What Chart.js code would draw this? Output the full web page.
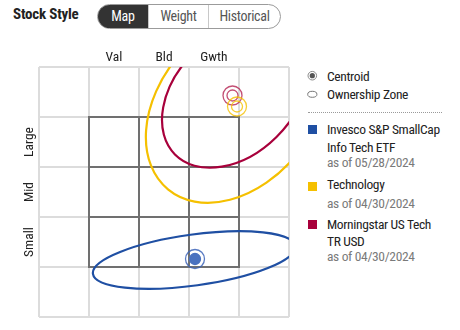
<!DOCTYPE html>
<html><head><meta charset="utf-8">
<script src="https://cdn.jsdelivr.net/npm/chart.js@4.4.1/dist/chart.umd.min.js"></script>
<style>
html,body{margin:0;padding:0;background:#fff;}
body{width:460px;height:330px;position:relative;overflow:hidden;font-family:"Liberation Sans Narrow","Arial Narrow","Roboto Condensed","DejaVu Sans Condensed",Roboto,sans-serif;color:#222;}
#title{position:absolute;left:13px;top:4px;font-size:15px;font-weight:bold;line-height:20px;white-space:nowrap;letter-spacing:-0.2px;}
#tabs{position:absolute;left:97px;top:4px;width:182px;height:23px;border:1px solid #9b9b9b;border-radius:13px;overflow:hidden;display:flex;}
.tab{height:23px;line-height:23px;font-size:14px;text-align:center;color:#555;box-sizing:border-box;letter-spacing:-0.3px;}
.tab + .tab{border-left:1px solid #c8c8c8;}
.tab.active{background:#333;color:#fff;}
#chartWrap{position:absolute;left:0;top:0;width:300px;height:330px;}
.lg{position:absolute;left:327px;font-size:13.5px;line-height:16px;white-space:nowrap;color:#222;letter-spacing:-0.35px;}
.lg.date{color:#7a7a7a;}
.sq{position:absolute;left:308px;width:9px;height:9px;}
#dots{position:absolute;left:308px;top:112px;width:134px;border-top:1px dotted #9a9a9a;}
</style>
</head>
<body>
<div id="title">Stock Style</div>
<div id="tabs"></div>
<div id="chartWrap"><canvas id="c" width="300" height="330"></canvas></div>
<svg style="position:absolute;left:303px;top:66px" width="20" height="36">
  <circle cx="9.3" cy="9.7" r="4.3" fill="#fff" stroke="#8a8a8a" stroke-width="1"/>
  <circle cx="9.3" cy="9.7" r="2.6" fill="#555"/>
  <ellipse cx="9.3" cy="28.3" rx="4.6" ry="3" fill="none" stroke="#777" stroke-width="1"/>
</svg>
<div id="dots"></div>
<div id="legend"></div>
<script>
// ---------- data ----------
const tabLabels = ['Map', 'Weight', 'Historical'];
const legendKeys = ['Centroid', 'Ownership Zone'];
const styleTickValues = [-50, 50, 150, 250, 350];
const styleTickLabels = ['', 'Val', 'Bld', 'Gwth', ''];
const sizeTickValues = [-50, 50, 150, 250, 350];
const sizeTickLabels = ['', 'Small', 'Mid', 'Large', ''];
const boxLines = [0, 100, 200, 300];

const seriesNames = [
  ['Invesco S&P SmallCap', 'Info Tech ETF'],
  ['Technology'],
  ['Morningstar US Tech', 'TR USD']
];
const asOfDates = ['05/28/2024', '04/30/2024', '04/30/2024'];
const seriesColors = ['#1f4fa3', '#f5c000', '#a8003b'];
const ringColors = ['rgba(60,100,185,0.85)', 'rgba(245,192,0,0.8)', 'rgba(175,20,70,0.75)'];
const coreFill = ['#4a72c0', 'rgba(0,0,0,0)', 'rgba(0,0,0,0)'];

// centroids (style score, size score)
const centroidStyle = [212, 296, 287];
const centroidSize = [16, 321, 343];
// ownership zones
const zoneStyle = [210, 295, 292];
const zoneSize = [14, 321, 344];
const zoneMajor = [204, 215, 169];
const zoneMinor = [51, 154, 118];
const zoneAngle = [7.8, 50.4, 44.7];

// ---------- tabs ----------
const tabWidths = [50, 60, 72];
const tabs = document.getElementById('tabs');
tabLabels.forEach((t, i) => {
  const d = document.createElement('div');
  d.className = 'tab' + (i === 0 ? ' active' : '');
  d.style.width = tabWidths[i] + 'px';
  d.textContent = t;
  tabs.appendChild(d);
});

// ---------- legend ----------
const legend = document.getElementById('legend');
function addLine(text, top, cls) {
  const d = document.createElement('div');
  d.className = 'lg' + (cls ? ' ' + cls : '');
  d.style.top = top + 'px';
  d.textContent = text;
  legend.appendChild(d);
}
addLine(legendKeys[0], 68);
addLine(legendKeys[1], 86.4);
const nameTops = [[121, 138.6], [176.3], [216.3, 233]];
const dateTops = [153.6, 195.3, 248];
const squareTops = [125, 182, 219.5];
seriesNames.forEach((lines, i) => {
  const sq = document.createElement('div');
  sq.className = 'sq';
  sq.style.top = squareTops[i] + 'px';
  sq.style.background = seriesColors[i];
  legend.appendChild(sq);
  lines.forEach((l, j) => addLine(l, nameTops[i][j]));
  addLine('as of ' + asOfDates[i], dateTops[i], 'date');
});

// ---------- chart ----------
const FONT = '"Liberation Sans Narrow","Arial Narrow","Roboto Condensed","DejaVu Sans Condensed",Roboto,sans-serif';

const zonePlugin = {
  id: 'zones',
  beforeDatasetsDraw(chart) {
    const {ctx, chartArea: ca, scales: {x, y}} = chart;
    ctx.save();
    // inner 3x3 style box
    ctx.strokeStyle = '#707070';
    ctx.lineWidth = 2;
    const lo = boxLines[0], hi = boxLines[boxLines.length - 1];
    ctx.beginPath();
    boxLines.forEach(v => {
      const px = x.getPixelForValue(v);
      ctx.moveTo(px, y.getPixelForValue(lo) + 1);
      ctx.lineTo(px, y.getPixelForValue(hi) - 1);
      const py = y.getPixelForValue(v);
      ctx.moveTo(x.getPixelForValue(lo) - 1, py);
      ctx.lineTo(x.getPixelForValue(hi) + 1, py);
    });
    ctx.stroke();
    // ownership zones, clipped to map
    ctx.beginPath();
    ctx.rect(ca.left, ca.top, ca.right - ca.left, ca.bottom - ca.top);
    ctx.clip();
    zoneStyle.forEach((cx, i) => {
      const px = x.getPixelForValue(cx);
      const py = y.getPixelForValue(zoneSize[i]);
      const rx = Math.abs(x.getPixelForValue(cx + zoneMajor[i]) - px);
      const ry = Math.abs(y.getPixelForValue(zoneSize[i] + zoneMinor[i]) - py);
      ctx.beginPath();
      ctx.ellipse(px, py, rx, ry, -zoneAngle[i] * Math.PI / 180, 0, Math.PI * 2);
      ctx.strokeStyle = seriesColors[i];
      ctx.lineWidth = 2.2;
      ctx.stroke();
    });
    ctx.restore();
  }
};

const datasets = [];
centroidStyle.forEach((sx, i) => {
  datasets.push({
    label: seriesNames[i].join(' ') + ' ring',
    data: [{x: sx, y: centroidSize[i]}],
    pointRadius: 9.5,
    pointBorderWidth: 1.3,
    pointBackgroundColor: 'rgba(0,0,0,0)',
    pointBorderColor: ringColors[i]
  });
  datasets.push({
    label: seriesNames[i].join(' ') + ' centroid',
    data: [{x: sx, y: centroidSize[i]}],
    pointRadius: 5.5,
    pointBorderWidth: 1.3,
    pointBackgroundColor: coreFill[i],
    pointBorderColor: i === 0 ? coreFill[i] : ringColors[i]
  });
});

const gridOpts = {
  offset: true,
  color: '#dcdcdc',
  lineWidth: 2,
  drawTicks: false
};

new Chart(document.getElementById('c'), {
  type: 'scatter',
  data: {datasets},
  plugins: [zonePlugin],
  options: {
    responsive: false,
    animation: false,
    events: [],
    layout: {padding: {left: 0, top: 0, right: 11, bottom: 13}},
    plugins: {legend: {display: false}, tooltip: {enabled: false}},
    scales: {
      x: {
        type: 'linear',
        position: 'top',
        min: -100, max: 400,
        afterBuildTicks: s => { s.ticks = styleTickValues.map(v => ({value: v})); },
        afterFit: s => { s.height = 67; },
        border: {display: false},
        grid: gridOpts,
        ticks: {
          padding: 1,
          color: '#222',
          font: {family: FONT, size: 13.5},
          maxRotation: 0,
          autoSkip: false,
          callback: v => styleTickLabels[styleTickValues.indexOf(v)]
        }
      },
      y: {
        type: 'linear',
        position: 'left',
        min: -100, max: 400,
        afterBuildTicks: s => { s.ticks = sizeTickValues.map(v => ({value: v})); },
        afterFit: s => { s.width = 39; },
        border: {display: false},
        grid: gridOpts,
        ticks: {
          padding: -5.6,
          color: '#222',
          crossAlign: 'center',
          minRotation: 90,
          maxRotation: 90,
          autoSkip: false,
          font: {family: FONT, size: 13.5},
          callback: v => sizeTickLabels[sizeTickValues.indexOf(v)]
        }
      }
    }
  }
});
</script>
</body></html>
